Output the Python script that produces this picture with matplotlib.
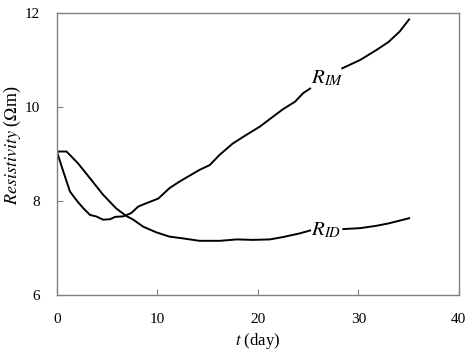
import numpy as np
import matplotlib
matplotlib.use('Agg')
import matplotlib.pyplot as plt

plt.rcParams['font.family'] = 'Liberation Serif'
plt.rcParams['mathtext.fontset'] = 'stix'

# R_IM curve (gap where the label sits)
t_im = [0, 0.6, 1.3, 2.0, 2.6, 3.3, 3.9, 4.6, 5.3, 5.8, 6.6, 7.4, 8.1, 8.9, 10.1, 11.2,
        12.2, 14.2, 15.2, 16.2, 17.5, 18.6, 20.2, 21.5, 22.5, 23.7, 24.5, 25.2,
        26.8, 28.4, 30.2, 31.8, 33.0, 34.1, 35.05]
r_im = [9.05, 8.65, 8.2, 8.0, 7.85, 7.7, 7.67, 7.6, 7.61, 7.66, 7.67, 7.74, 7.88, 7.95, 8.05, 8.27,
        8.41, 8.66, 8.76, 8.98, 9.22, 9.37, 9.58, 9.79, 9.95, 10.11, 10.29, 10.39,
        np.nan, 10.82, 11.0, 11.21, 11.38, 11.6, 11.86]

# R_ID curve
t_id = [0, 0.96, 2.1, 3.3, 4.6, 5.9, 6.9, 7.6, 8.6, 9.9, 11.2, 12.6, 14.2, 16.2, 17.9,
        19.5, 21.2, 22.5, 24.2, 25.2, 26.8, 28.5, 30.2, 31.8, 33.0, 35.05]
r_id = [9.05, 9.05, 8.8, 8.48, 8.13, 7.84, 7.68, 7.6, 7.45, 7.33, 7.24, 7.2, 7.15, 7.15, 7.18,
        7.17, 7.18, 7.23, 7.31, 7.37, np.nan, 7.40, 7.42, 7.47, 7.52, 7.63]

fig = plt.figure(figsize=(4.74, 3.57), dpi=100)
ax = fig.add_axes([0.120, 0.174, 0.848, 0.790])

ax.plot(t_im, r_im, c='black', lw=1.4)
ax.plot(t_id, r_id, c='black', lw=1.4)

ax.text(25.3, 10.6, '$R_{IM}$', fontsize=15, va='center', ha='left')
ax.text(25.3, 7.37, '$R_{ID}$', fontsize=15, va='center', ha='left')

ax.set_xlim(0, 40)
ax.set_ylim(6, 12)
ax.set_xticks([0, 10, 20, 30, 40])
ax.set_yticks([6, 8, 10, 12])
for s in ax.spines.values():
    s.set_color('#808080')
    s.set_linewidth(1.0)
ax.tick_params(axis='x', direction='in', length=4, color='#808080', pad=13, labelsize=11)
ax.tick_params(axis='y', direction='in', length=4, color='#808080', pad=12, labelsize=11)

ax.set_xlabel('$t$ (day)', fontsize=12, labelpad=4)
ax.set_ylabel('$Resistivity$ ($\\Omega$m)', fontsize=13)
ax.yaxis.set_label_coords(-0.085, 0.53)

fig.savefig('out.png', dpi=100)
